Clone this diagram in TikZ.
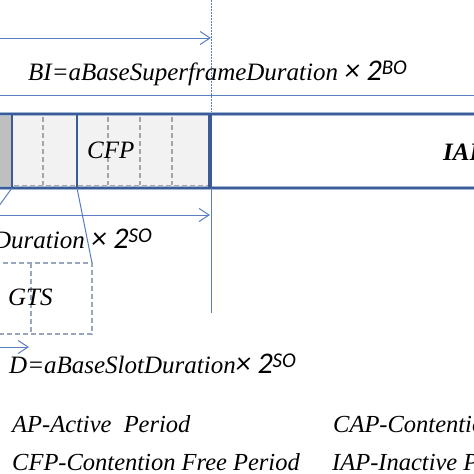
\documentclass[tikz,border=0pt]{standalone}
\usepackage{fontspec}
\setmainfont{Liberation Serif}
\newfontfamily\sfx{Carlito}
\usetikzlibrary{arrows.meta}
\definecolor{lineblue}{HTML}{5B80C2}
\definecolor{frameblue}{HTML}{3A5B95}
\definecolor{framehalo}{HTML}{A3B6D8}
\definecolor{beacongray}{HTML}{BFBFBF}
\definecolor{slotfill}{HTML}{F2F2F2}
\definecolor{slotdash}{HTML}{A6A6A6}
\definecolor{gtsdash}{HTML}{98A6BF}
\newcommand\sqpart[1]{{\sfx\fontsize{30}{34}\selectfont ×\ 2\raisebox{6pt}{\fontsize{21}{24}\selectfont\itshape #1}}}
\newcommand\powtwo[1]{{\sfx\fontsize{30}{34}\selectfont\ }\sqpart{#1}}
\begin{document}
\begin{tikzpicture}[x=1pt,y=-1pt,
  thinline/.style={draw=lineblue,line width=1pt},
  arrowline/.style={thinline,-{Straight Barb[length=10pt,width=13pt,line width=1pt]}},
  frameline/.style={draw=frameblue,line width=2pt},
  framehaloline/.style={draw=framehalo,line width=3.6pt},
  slotdashed/.style={draw=slotdash,line width=1.4pt,dash pattern=on 5pt off 3pt},
  gtsline/.style={draw=gtsdash,line width=1.5pt,dash pattern=on 5pt off 3pt},
  txt/.style={inner sep=0pt,anchor=base west,font=\fontsize{25}{30}\selectfont\itshape},
  formula/.style={inner sep=0pt,font=\fontsize{25}{30}\selectfont\itshape},
  legend/.style={inner sep=0pt,anchor=base west,font=\fontsize{24.5}{29}\selectfont\itshape}]
\useasboundingbox (0,0) rectangle (474,474);
\fill[white] (0,0) rectangle (474,474);

% coordinates
\coordinate (biL) at (-5,38);
\coordinate (biR) at (211,38);
\coordinate (mkTop) at (211,0);
\coordinate (mkFrame) at (211,114);
\coordinate (sepL) at (-2,95);
\coordinate (sepR) at (476,95);
\coordinate (sdL) at (-5,215);
\coordinate (sdR) at (210,215);
\coordinate (mkLowA) at (211,188);
\coordinate (mkLowB) at (211,313);
\coordinate (slotA) at (12,188);
\coordinate (slotAend) at (-4,210);
\coordinate (slotB) at (77,188);
\coordinate (gtsTR) at (92,263);
\coordinate (slL) at (-5,347);
\coordinate (slR) at (29,347);

% BI arrow and marker
\draw[arrowline] (biL) -- (biR);
\draw[thinline,dash pattern=on 1.5pt off 1.5pt] (mkTop) -- (mkFrame);
\node[txt] (bi) at (28,80) {BI=aBaseSuperframeDuration\powtwo{BO}};
\draw[thinline] (sepL) -- (sepR);

% superframe
\fill[beacongray] (-2,114) rectangle (12,188);
\fill[slotfill] (12,114) rectangle (210,188);
\foreach \x in {43,108,140,172}{
  \draw[slotdashed] (\x,117) -- (\x,185);
}
\draw[draw=slotdash,line width=1pt,dash pattern=on 5pt off 3pt] (14,185) -- (208,185);
\draw[framehaloline] (-2,114) -- (476,114);
\draw[framehaloline] (-2,188) -- (476,188);
\draw[frameline] (-2,114) -- (476,114);
\draw[frameline] (-2,188) -- (476,188);
\draw[frameline,line width=1.8pt] (12,114) -- (12,188);
\draw[frameline,line width=1.8pt] (77,114) -- (77,188);
\draw[frameline,line width=4pt] (210,113) -- (210,189);
\node[txt] (cfp) at (87,158) {CFP};
\node[txt,font=\fontsize{25}{30}\selectfont\bfseries\itshape] (iap) at (443,160) {IAP};

% SD
\draw[thinline] (slotA) -- (slotAend);
\draw[thinline] (slotB) -- (gtsTR);
\draw[arrowline] (sdL) -- (sdR);
\node[formula,anchor=base east] (sd) at (152,248) {Duration\powtwo{SO}};
\draw[thinline] (mkLowA) -- (mkLowB);

% GTS
\draw[gtsline] (-5,263) -- (gtsTR) -- (92,334) -- (-5,334);
\draw[gtsline] (31,263) -- (31,334);
\node[txt] (gts) at (8,305) {GTS};
\draw[arrowline] (slL) -- (slR);
\node[formula,anchor=base west] (slot) at (9,373) {D=aBaseSlotDuration\sqpart{SO}};

% legend
\node[legend] (ap) at (12,432) {AP-Active\ \ Period};
\node[legend] (cap) at (333,432) {CAP-Contention Access Period};
\node[legend] (cfpl) at (12,470) {CFP-Contention Free Period};
\node[legend] (iapl) at (332,470) {IAP-Inactive Period};
\end{tikzpicture}
\end{document}
